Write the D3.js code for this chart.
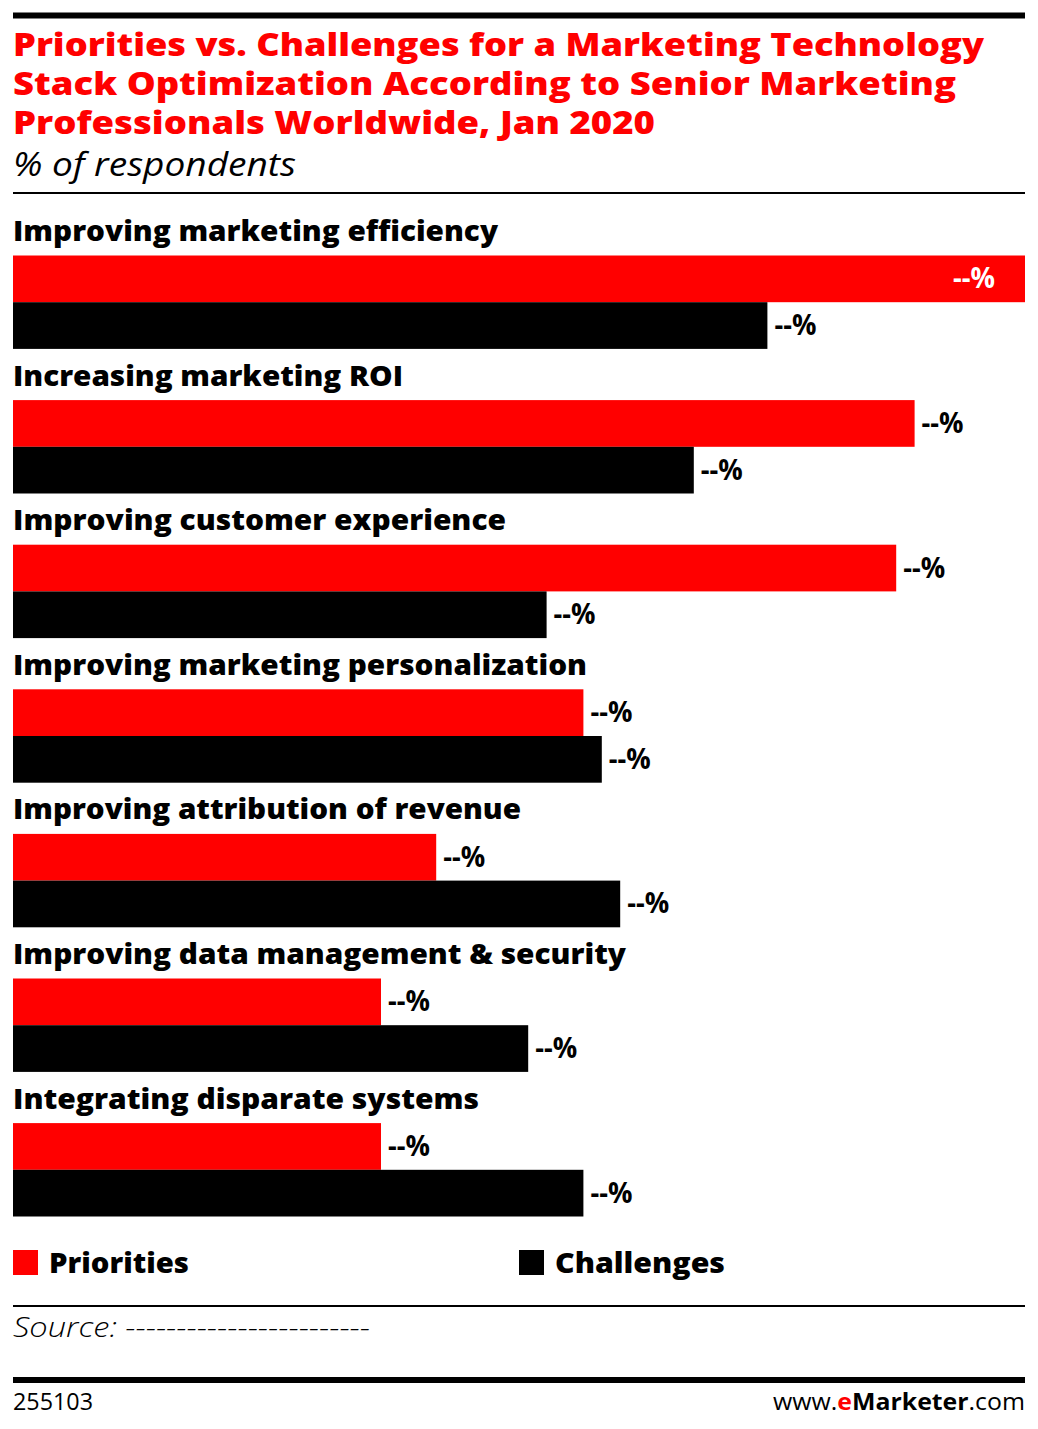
<!DOCTYPE html>
<meta charset="utf-8">
<head>
  <title>Priorities vs. Challenges</title>
  <style>
    body { margin: 0; background: #fff; }
    text { font-family: "Open Sans", "DejaVu Sans", sans-serif; }
  </style>
</head>
<body>
  <svg width="1038" height="1429"></svg>

  <script src="https://cdnjs.cloudflare.com/ajax/libs/d3/7.8.5/d3.min.js"></script>
  <script>
var titleLines = [
  'Priorities vs. Challenges for a Marketing Technology',
  'Stack Optimization According to Senior Marketing',
  'Professionals Worldwide, Jan 2020'
];
var subtitle = '% of respondents';

var categories = [
  'Improving marketing efficiency',
  'Increasing marketing ROI',
  'Improving customer experience',
  'Improving marketing personalization',
  'Improving attribution of revenue',
  'Improving data management & security',
  'Integrating disparate systems'
];
var seriesNames = ['Priorities', 'Challenges'];
// values are hidden in the original ("--%")
var priorities = [55, 49, 48, 31, 23, 20, 20];
var challenges = [41, 37, 29, 32, 33, 28, 31];
var valueLabel = '--%';
var colors = ['#ff0000', '#000000'];

var svg = d3.select('svg');

// stretch/shrink a text node to a measured width from the picture
function fit(sel, w) {
  var cur = sel.node().getComputedTextLength();
  if (Math.abs(cur - w) > 1) sel.attr('textLength', w).attr('lengthAdjust', 'spacingAndGlyphs');
  return sel;
}

// top rule
svg.append('rect').attr('x', 13).attr('y', 12.5).attr('width', 1012).attr('height', 6).attr('fill', '#000');

// title
var titleWidths = [971, 943, 642];
titleLines.forEach(function(t, i) {
  var tx = svg.append('text')
    .attr('x', 13).attr('y', 56 + i * 39)
    .attr('fill', '#ff0000')
    .style('font-size', '32px').style('font-weight', 800)
    .text(t);
  fit(tx, titleWidths[i]);
});

fit(svg.append('text')
  .attr('x', 13).attr('y', 176)
  .style('font-size', '32px').style('font-style', 'italic').style('font-weight', 400)
  .text(subtitle), 283);

svg.append('rect').attr('x', 13).attr('y', 192).attr('width', 1012).attr('height', 2).attr('fill', '#000');

// bars
var x = d3.scaleLinear().domain([0, 55]).range([13, 1025]);
var y = d3.scaleBand().domain(categories).range([255.5, 255.5 + 7 * 144.6]);
var ySeries = d3.scaleBand().domain(seriesNames).range([0, 93.4]);

var rows = categories.map(function(c, i) {
  return {cat: c, values: [priorities[i], challenges[i]]};
});

var labelWidths = [485, 390, 493, 574, 508, 613, 466];

var group = svg.selectAll('g.row')
  .data(rows)
  .enter().append('g')
  .attr('class', 'row')
  .attr('transform', function(d) { return 'translate(0,' + y(d.cat) + ')'; });

group.append('text')
  .attr('x', 13).attr('y', -14.5)
  .style('font-size', '28px').style('font-weight', 800)
  .text(function(d) { return d.cat; })
  .each(function(d, i) { fit(d3.select(this), labelWidths[i]); });

group.selectAll('rect')
  .data(function(d) { return d.values.map(function(v, j) { return {v: v, s: seriesNames[j], j: j}; }); })
  .enter().append('rect')
  .attr('x', x(0))
  .attr('y', function(d) { return ySeries(d.s); })
  .attr('width', function(d) { return x(d.v) - x(0); })
  .attr('height', ySeries.bandwidth())
  .attr('fill', function(d) { return colors[d.j]; });

group.selectAll('text.val')
  .data(function(d) { return d.values.map(function(v, j) { return {v: v, s: seriesNames[j], j: j}; }); })
  .enter().append('text')
  .attr('class', 'val')
  .attr('y', function(d) { return ySeries(d.s) + ySeries.bandwidth() / 2 + 9.5; })
  .style('font-size', '28px').style('font-weight', 700)
  .each(function(d) {
    var inside = x(d.v) + 50 > 1025;
    d3.select(this)
      .attr('x', inside ? x(d.v) - 30 : x(d.v) + 7)
      .attr('text-anchor', inside ? 'end' : 'start')
      .attr('fill', inside ? '#fff' : '#000');
  })
  .text(valueLabel)
  .each(function() { fit(d3.select(this), 42); });

// legend
var legendX = [13, 519];
var legendW = [140, 170];
seriesNames.forEach(function(s, i) {
  svg.append('rect').attr('x', legendX[i]).attr('y', 1250).attr('width', 25).attr('height', 25).attr('fill', colors[i]);
  fit(svg.append('text')
    .attr('x', legendX[i] + 36).attr('y', 1273)
    .style('font-size', '28px').style('font-weight', 800)
    .text(s), legendW[i]);
});

// source
svg.append('rect').attr('x', 13).attr('y', 1305).attr('width', 1012).attr('height', 2).attr('fill', '#000');
fit(svg.append('text')
  .attr('x', 13).attr('y', 1337)
  .style('font-size', '28px').style('font-style', 'italic').style('font-weight', 300)
  .text('Source: ------------------------'), 357);

svg.append('rect').attr('x', 13).attr('y', 1377).attr('width', 1012).attr('height', 6).attr('fill', '#000');

// footer
fit(svg.append('text')
  .attr('x', 13).attr('y', 1410)
  .style('font-size', '24px')
  .text('255103'), 80);

var brand = svg.append('text')
  .attr('x', 1025).attr('y', 1410)
  .attr('text-anchor', 'end')
  .style('font-size', '24px');
brand.append('tspan').text('www.');
brand.append('tspan').attr('fill', '#ff0000').style('font-weight', 700).text('e');
brand.append('tspan').style('font-weight', 700).text('Marketer');
brand.append('tspan').text('.com');
fit(brand, 252);
  </script>
</body>
</html>
